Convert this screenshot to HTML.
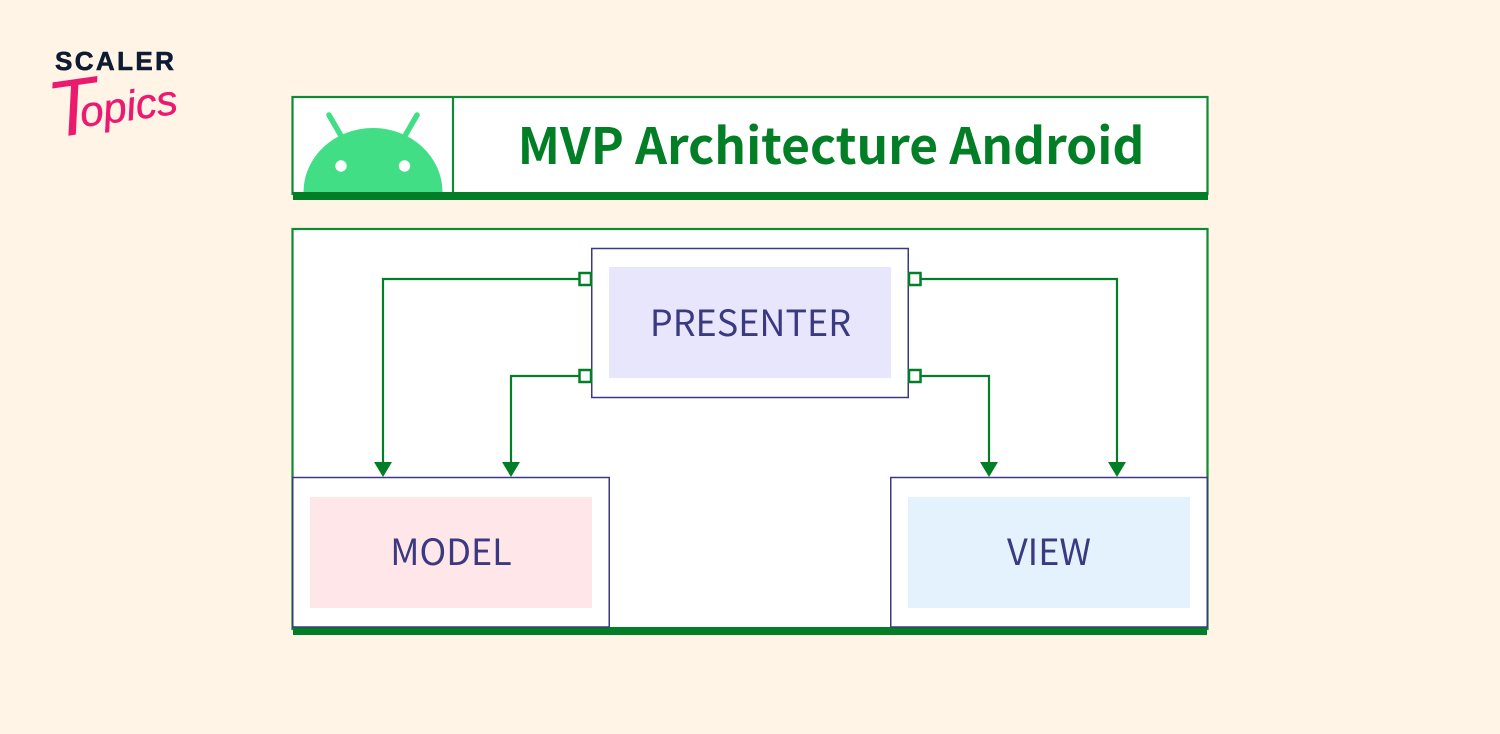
<!DOCTYPE html>
<html><head><meta charset="utf-8"><style>
html,body{margin:0;padding:0;background:#fff4e6}
svg{display:block}
</style></head><body>
<svg width="1500" height="734" viewBox="0 0 1500 734" xmlns="http://www.w3.org/2000/svg">
<rect width="1500" height="734" fill="#fff4e6"/>
<text x="55" y="70" font-size="26" font-weight="700" fill="#0d1b33" stroke="#0d1b33" stroke-width="0.6" letter-spacing="2.400" style="font-family:'Liberation Sans',sans-serif">SCALER</text>
<g fill="#ec1a6f" font-style="italic" style="font-family:'Liberation Sans',sans-serif">
<text transform="translate(52,138) rotate(-8)" font-size="80">T</text>
<text transform="translate(82,127) rotate(-8)" font-size="42" stroke="#ec1a6f" stroke-width="0.5">opics</text>
</g>
<rect x="292.500" y="97" width="915" height="97" fill="#fff" stroke="#0f8a34" stroke-width="2.200"/>
<line x1="453" y1="97" x2="453" y2="194" stroke="#0f8a34" stroke-width="2.200"/>
<rect x="293" y="192" width="915" height="8" fill="#027f26"/>
<path d="M303.500 192 A69.500 64 0 0 1 442.500 192 Z" fill="#41de86"/>
<path d="M329 115 L344 141 M417 115 L402 141" stroke="#41de86" stroke-width="5.500" stroke-linecap="round"/>
<circle cx="341" cy="166" r="5.700" fill="#fff"/><circle cx="404.500" cy="166" r="5.700" fill="#fff"/>
<text x="831" y="164" text-anchor="middle" font-size="49.700" font-weight="700" fill="#027f26" style="font-family:'Noto Sans CJK JP',sans-serif">MVP Architecture Android</text>
<rect x="292.500" y="229" width="915" height="400" fill="#fff" stroke="#0f8a34" stroke-width="2.200"/>
<rect x="293" y="627" width="914" height="8" fill="#027f26"/>
<g fill="none" stroke="#027f26" stroke-width="2.200">
<path d="M579 279 H383 V463"/><path d="M579 376 H511 V463"/>
<path d="M921 279 H1117 V463"/><path d="M921 376 H989 V463"/>
</g>
<g fill="#027f26">
<path d="M374 462 H392 L383 477 Z"/><path d="M502 462 H520 L511 477 Z"/>
<path d="M980 462 H998 L989 477 Z"/><path d="M1108 462 H1126 L1117 477 Z"/>
</g>
<g fill="#fff" stroke="#3b3a80" stroke-width="1.500">
<rect x="591.750" y="248.500" width="316.500" height="149"/>
<rect x="292.750" y="477.500" width="316.500" height="149.500"/>
<rect x="890.750" y="477.500" width="316.500" height="149.500"/>
</g>
<g fill="#fff" stroke="#027f26" stroke-width="2.500">
<rect x="579.500" y="273" width="11.500" height="12"/><rect x="579.500" y="370" width="11.500" height="12"/>
<rect x="909" y="273" width="11.500" height="12"/><rect x="909" y="370" width="11.500" height="12"/>
</g>
<rect x="609" y="267" width="282" height="111" fill="#e8e6fd"/>
<rect x="310" y="497" width="282" height="111" fill="#fee6e9"/>
<rect x="908" y="497" width="282" height="111" fill="#e4f2fe"/>
<g font-size="36" fill="#3b3a80" text-anchor="middle" style="font-family:'Noto Sans CJK JP',sans-serif">
<text x="750.500" y="336">PRESENTER</text>
<text x="451" y="565">MODEL</text>
<text x="1049" y="565">VIEW</text>
</g>
</svg>
</body></html>
